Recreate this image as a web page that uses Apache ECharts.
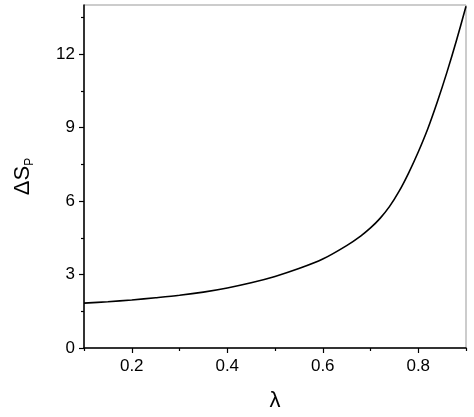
<!DOCTYPE html>
<html>
<head>
<meta charset="utf-8">
<script src="https://cdn.jsdelivr.net/npm/echarts@6/dist/echarts.min.js"></script>
<style>html,body{margin:0;padding:0;background:#fff}#c{width:474px;height:417px}</style>
</head>
<body>
<div id="c"></div>
<script>
var lambdaVals = [0.10,0.15,0.20,0.25,0.30,0.35,0.40,0.45,0.50,0.55,0.60,0.65,0.68,0.70,0.72,0.74,0.76,0.78,0.80,0.82,0.84,0.86,0.88,0.90];
var deltaSp   = [1.83,1.89,1.96,2.05,2.15,2.28,2.45,2.66,2.92,3.24,3.63,4.18,4.58,4.90,5.29,5.78,6.40,7.15,8.00,8.95,10.05,11.25,12.55,13.95];
var xMajorTicks = [0.2,0.4,0.6,0.8];
var xMinorTicks = [0.1,0.3,0.5,0.7,0.9];
var yMajorTicks = [0,3,6,9,12];
var yMinorTicks = [1.5,4.5,7.5,10.5,13.5];

var pts = lambdaVals.map(function(v,i){return [v, deltaSp[i]];});
var FONT = 'Liberation Sans, Arial, sans-serif';
var chart = echarts.init(document.getElementById('c'));
chart.setOption({
  animation:false,
  backgroundColor:'#fff',
  grid:{left:84,right:8,top:5,bottom:68,show:true,borderColor:'#999',borderWidth:1},
  xAxis:[{
    type:'value',min:0.1,max:0.9,
    name:'λ',nameLocation:'middle',nameGap:42,
    nameTextStyle:{fontFamily:FONT,fontSize:22,color:'#000'},
    axisLine:{show:true,lineStyle:{color:'#000',width:1.5}},
    axisTick:{show:true,length:5,lineStyle:{color:'#000',width:1.2},customValues:xMajorTicks},
    axisLabel:{show:true,fontFamily:FONT,fontSize:17,color:'#000',margin:10,customValues:xMajorTicks,
      formatter:function(v){return v.toFixed(1);}},
    splitLine:{show:false}
  },{
    type:'value',min:0.1,max:0.9,position:'bottom',
    axisLine:{show:false},
    axisTick:{show:true,length:3,lineStyle:{color:'#000',width:1.2},customValues:xMinorTicks},
    axisLabel:{show:false},splitLine:{show:false}
  }],
  yAxis:[{
    type:'value',min:0,max:14,
    name:'{a|ΔS}{b|P}',nameLocation:'middle',nameGap:48,nameRotate:90,
    nameTextStyle:{rich:{a:{fontFamily:FONT,fontSize:22,color:'#000'},b:{fontFamily:FONT,fontSize:12,color:'#000',padding:[14,0,0,0]}}},
    axisLine:{show:true,lineStyle:{color:'#000',width:1.5}},
    axisTick:{show:true,length:5,lineStyle:{color:'#000',width:1.2},customValues:yMajorTicks},
    axisLabel:{show:true,fontFamily:FONT,fontSize:17,color:'#000',margin:9,customValues:yMajorTicks},
    splitLine:{show:false}
  },{
    type:'value',min:0,max:14,position:'left',
    axisLine:{show:false},
    axisTick:{show:true,length:3,lineStyle:{color:'#000',width:1.2},customValues:yMinorTicks},
    axisLabel:{show:false},splitLine:{show:false}
  }],
  series:[{
    type:'line',data:pts,smooth:0.3,showSymbol:false,
    xAxisIndex:0,yAxisIndex:0,
    lineStyle:{color:'#000',width:1.6}
  }]
});
</script>
</body>
</html>
